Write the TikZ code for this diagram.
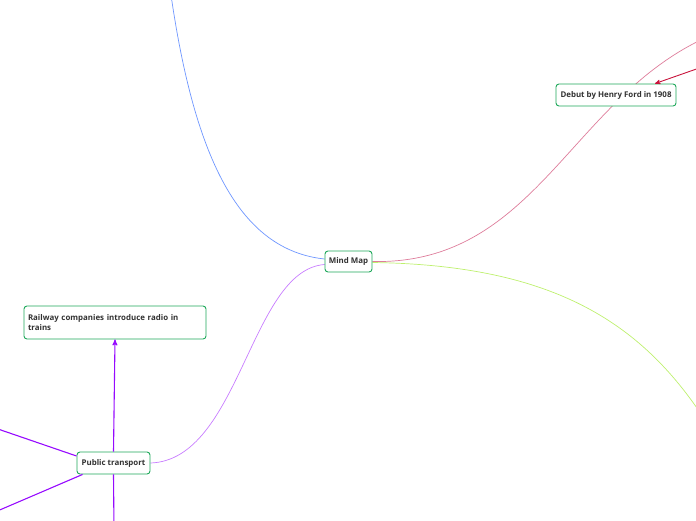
\documentclass[tikz,border=0pt]{standalone}
\usepackage{fontspec}
\setmainfont{Open Sans}
\usetikzlibrary{arrows}
\usetikzlibrary{calc}
\pgfdeclarelayer{background}
\pgfsetlayers{background,main}

\definecolor{boxgreen}{RGB}{30,168,90}
\definecolor{textgray}{RGB}{50,50,50}
\definecolor{bluebranch}{RGB}{110,150,255}
\definecolor{pinkbranch}{RGB}{222,125,155}
\definecolor{redlink}{RGB}{200,20,60}
\definecolor{limebranch}{RGB}{190,240,110}
\definecolor{violetbranch}{RGB}{200,125,255}
\definecolor{purplelink}{RGB}{150,10,255}

\begin{document}
\begin{tikzpicture}[x=1pt, y=-1pt,
    >=stealth',
    topic/.style={draw=boxgreen, line width=0.9pt, rounded corners=3pt, fill=white,
                  text=textgray, font=\fontsize{7.9}{10.5}\selectfont\bfseries, inner sep=0pt},
    branch line/.style={line width=0.7pt},
    link line/.style={line width=1.1pt, color=purplelink},
    ]

\useasboundingbox (0,0) rectangle (696,520);
\clip (0,0) rectangle (696,520);

%% draw nodes
\node[topic, minimum width=47pt, minimum height=21pt] (mind) at (348.5,261.5) {Mind Map};
\node[topic, minimum width=120pt, minimum height=22pt] (ford) at (616,95) {Debut by Henry Ford in 1908};
\node[topic, text width=174pt, minimum height=33pt, align=left, inner xsep=4pt] (radio) at (115,322.5)
    {Railway companies introduce radio in\\trains};
\node[topic, minimum width=73pt, minimum height=22pt] (public) at (113.5,463) {Public transport};

%% off-page ends
\coordinate (blueend) at (171,-5);
\coordinate (pinkend) at (705,38);
\coordinate (redend) at (705,66);
\coordinate (limeend) at (705,420);
\coordinate (leftup) at (-5,428);
\coordinate (leftdown) at (-5,512);
\coordinate (downend) at (114,530);

%% draw branches
\begin{pgfonlayer}{background}
\draw[branch line, bluebranch] ($(mind.west)+(0,-2.5)$) .. controls (240,250) and (195,160) .. (blueend);
\draw[branch line, pinkbranch] (mind.east) .. controls (535,265) and (570,100) .. (pinkend);
\draw[branch line, limebranch] ($(mind.east)+(0,1)$) .. controls (550,265) and (640,320) .. (limeend);
\draw[branch line, violetbranch] ($(mind.west)+(0,3)$) .. controls (250,270) and (240,460) .. (public.east);
\end{pgfonlayer}

%% draw arrows
\draw[line width=0.9pt, redlink, ->] (redend) -- ($(ford.north)+(39,0)$);
\draw[link line, ->] (public.north) -- (radio.south);
\draw[link line] ($(public.west)+(0,-7)$) -- (leftup);
\draw[link line] ($(public.south west)+(6,0)$) -- (leftdown);
\draw[link line] (public.south) -- (downend);

\end{tikzpicture}
\end{document}
